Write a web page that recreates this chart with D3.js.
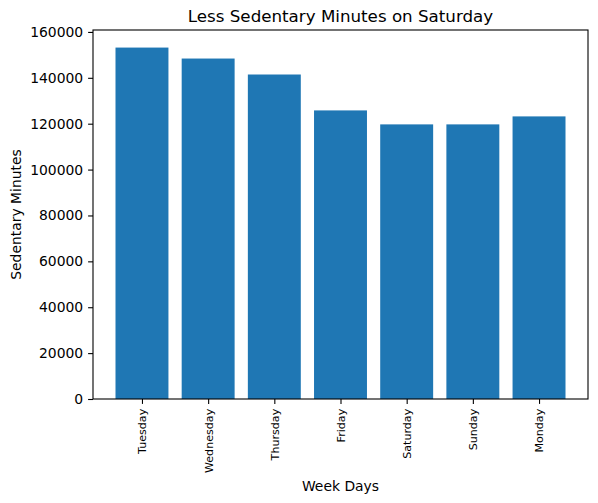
<!DOCTYPE html>
<html>
<head>
<meta charset="utf-8">
<script src="https://cdn.jsdelivr.net/npm/d3@7"></script>
<style>
  body { margin: 0; background: #fff; }
  svg { font-family: "DejaVu Sans", sans-serif; }
</style>
</head>
<body>
<div id="chart"></div>
<script>
/* Sedentary minutes per weekday, bar chart */

const days = ["Tuesday", "Wednesday", "Thursday", "Friday", "Saturday", "Sunday", "Monday"];
const sedentaryMinutes = [153180, 148400, 141440, 125790, 119700, 119700, 123180];
const yTicks = [0, 20000, 40000, 60000, 80000, 100000, 120000, 140000, 160000];

const width = 598, height = 503;
const margin = { top: 30, right: 10, bottom: 104, left: 93 };

const svg = d3.select("#chart")
  .append("svg")
  .attr("width", width)
  .attr("height", height);

// matplotlib-like bar positions: unit spacing, width 0.8, 5% margins
const n = days.length;
const pad = (n - 1 + 0.8) * 0.05;
const x = d3.scaleLinear()
  .domain([-0.4 - pad, n - 1 + 0.4 + pad])
  .range([margin.left, width - margin.right]);

const y = d3.scaleLinear()
  .domain([0, d3.max(sedentaryMinutes) * 1.05])
  .range([height - margin.bottom, margin.top]);

// Bars
svg.selectAll("rect.bar")
  .data(sedentaryMinutes)
  .join("rect")
  .attr("class", "bar")
  .attr("x", (d, i) => x(i - 0.4))
  .attr("width", (d, i) => x(i + 0.4) - x(i - 0.4))
  .attr("y", d => y(d))
  .attr("height", d => y(0) - y(d))
  .attr("fill", "#1f77b4");

// Y axis
svg.append("g")
  .attr("transform", `translate(${margin.left}, 0)`)
  .call(d3.axisLeft(y).tickValues(yTicks).tickFormat(d3.format("d")).tickSize(4.9).tickPadding(4.9))
  .call(g => g.select(".domain").remove())
  .call(g => g.selectAll("line").attr("stroke", "#000").attr("stroke-width", 1.1))
  .call(g => g.selectAll("text").attr("fill", "#000").attr("font-size", 13.9)
    .attr("font-family", "DejaVu Sans"));

// X axis
svg.append("g")
  .attr("transform", `translate(0, ${height - margin.bottom})`)
  .call(d3.axisBottom(x).tickValues(d3.range(n)).tickFormat(i => days[i]).tickSize(4.9).tickPadding(4.9))
  .call(g => g.select(".domain").remove())
  .call(g => g.selectAll("line").attr("stroke", "#000").attr("stroke-width", 1.1))
  .call(g => g.selectAll("text")
    .attr("fill", "#000")
    .attr("font-size", 11.1)
    .attr("font-family", "DejaVu Sans")
    .attr("text-anchor", "end")
    .attr("dy", "0.35em")
    .attr("x", 0)
    .attr("y", 0)
    .attr("transform", "translate(0, 9.8) rotate(-90)"));

// Frame
svg.append("rect")
  .attr("x", margin.left)
  .attr("y", margin.top)
  .attr("width", width - margin.left - margin.right)
  .attr("height", height - margin.top - margin.bottom)
  .attr("fill", "none")
  .attr("stroke", "#000")
  .attr("stroke-width", 1.1);

// Title and axis labels
const midX = (margin.left + width - margin.right) / 2;
const midY = (margin.top + height - margin.bottom) / 2;

svg.append("text")
  .attr("x", midX)
  .attr("y", 22)
  .attr("text-anchor", "middle")
  .attr("font-size", 16.7)
  .text("Less Sedentary Minutes on Saturday");

svg.append("text")
  .attr("x", midX)
  .attr("y", 491)
  .attr("text-anchor", "middle")
  .attr("font-size", 13.9)
  .text("Week Days");

svg.append("text")
  .attr("transform", `translate(21, ${midY}) rotate(-90)`)
  .attr("text-anchor", "middle")
  .attr("font-size", 13.9)
  .text("Sedentary Minutes");
</script>
</body>
</html>
